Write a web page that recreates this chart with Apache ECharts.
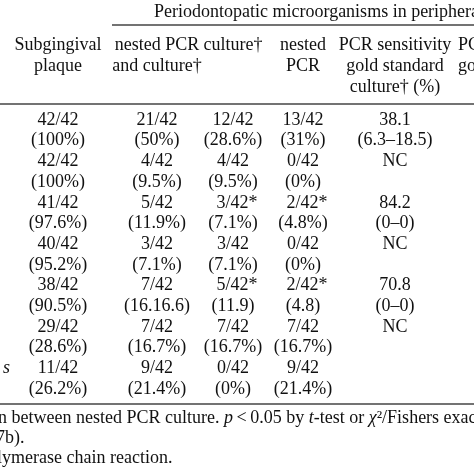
<!DOCTYPE html>
<html><head><meta charset="utf-8">
<script src="https://cdn.jsdelivr.net/npm/echarts@6/dist/echarts.min.js"></script>
<style>html,body{margin:0;padding:0;background:#fff}#c{width:474px;height:474px}</style>
</head><body><div id="c"></div>
<script>
const headerTitle = 'Periodontopatic microorganisms in peripheral';
const columnHeaders = [
  ['Subgingival','plaque'],
  ['nested PCR','and culture\u2020'],
  ['culture\u2020'],
  ['nested','PCR'],
  ['PCR sensitivity','gold standard','culture\u2020 (%)'],
  ['PC','gol']
];
const subgingival = ['42/42','(100%)','42/42','(100%)','41/42','(97.6%)','40/42','(95.2%)','38/42','(90.5%)','29/42','(28.6%)','11/42','(26.2%)'];
const nestedAndCulture = ['21/42','(50%)','4/42','(9.5%)','5/42','(11.9%)','3/42','(7.1%)','7/42','(16.16.6)','7/42','(16.7%)','9/42','(21.4%)'];
const cultureOnly = ['12/42','(28.6%)','4/42','(9.5%)','3/42*','(7.1%)','3/42','(7.1%)','5/42*','(11.9)','7/42','(16.7%)','0/42','(0%)'];
const nestedPCR = ['13/42','(31%)','0/42','(0%)','2/42*','(4.8%)','0/42','(0%)','2/42*','(4.8)','7/42','(16.7%)','9/42','(21.4%)'];
const sensitivity = ['38.1','(6.3\u201318.5)','NC','','84.2','(0\u20130)','NC','','70.8','(0\u20130)','NC','','',''];

const colX = [58,157,233,303,395];
const F = '"Liberation Serif", "DejaVu Serif", serif';
const font = '18px ' + F;
const els = [];
function txt(x,y,s,align,extra){els.push({type:'text',x:x,y:y,style:Object.assign({text:s,font:font,fill:'#111',align:align||'center',verticalAlign:'middle'},extra||{})});}
function line(x1,y1,x2,y2,w){els.push({type:'line',shape:{x1,y1,x2,y2},style:{stroke:'#444',lineWidth:w||1.3}});}

txt(154,12,headerTitle,'left');
line(112,25,474,25);
columnHeaders.forEach((h,i)=>h.forEach((s,j)=>{ if(i<5) txt(colX[i],45+j*21,s); else txt(458,45+j*21,s,'left'); }));
line(0,104,474,104);
const cols=[subgingival,nestedAndCulture,cultureOnly,nestedPCR,sensitivity];
cols.forEach((c,i)=>c.forEach((s,r)=>{ if(s) txt(colX[i]+(s.endsWith('*')?4:0),120+r*20.7,s);}));
txt(3,368,'s','left',{font:'italic 18px ' + F});
line(0,404,474,404);
els.push({type:'text',x:-2,y:418,style:{text:'n between nested PCR culture. {i|p}\u2009<\u20090.05 by {i|t}-test or {i|\u03c7}\u00b2/Fishers exact',font:font,fill:'#111',verticalAlign:'middle',rich:{i:{font:'italic 18px '+F,fill:'#111'}}}});
txt(-4,438,'7b).','left');
txt(-3,458,'lymerase chain reaction.','left');

const chart = echarts.init(document.getElementById('c'),null,{renderer:'canvas'});
chart.setOption({animation:false,graphic:{elements:els}});
</script></body></html>
